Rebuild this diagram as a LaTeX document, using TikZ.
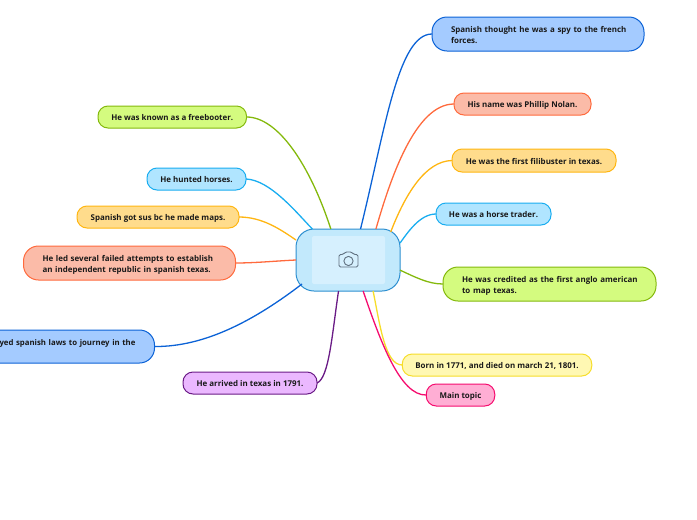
\documentclass[tikz,border=0pt]{standalone}
\usepackage{fontspec}
\setmainfont{Open Sans}[BoldFont={Open Sans Bold}]
\definecolor{bluef}{HTML}{A4CBFF}\definecolor{bluel}{HTML}{0B62D6}
\definecolor{redf}{HTML}{FBBBA8}\definecolor{redl}{HTML}{FF6A3D}
\definecolor{orgf}{HTML}{FFDC8C}\definecolor{orgl}{HTML}{FFB612}
\definecolor{skyf}{HTML}{B0E5FF}\definecolor{skyl}{HTML}{19ADF0}
\definecolor{grnf}{HTML}{D4FB7F}\definecolor{grnl}{HTML}{84B90C}
\definecolor{yelf}{HTML}{FFF8B3}\definecolor{yell}{HTML}{F6DD2A}
\definecolor{pnkf}{HTML}{FFAED4}\definecolor{pnkl}{HTML}{F50C6E}
\definecolor{purf}{HTML}{EBB8FF}\definecolor{purl}{HTML}{6A1B86}
\definecolor{cenf}{HTML}{C2E9FC}\definecolor{cenl}{HTML}{2D8FD0}
\definecolor{cenin}{HTML}{D6F0FE}\definecolor{camera}{HTML}{5F7080}
\tikzset{
  x=1pt,y=-1pt,
  topic/.style={rectangle,rounded corners=#1,inner sep=0pt,outer sep=0pt,line width=1pt,font=\fontsize{7.95}{11}\selectfont\bfseries,text=black!90},
  topic/.default=10pt,
  tblue/.style={draw=bluel,fill=bluef},
  tred/.style={draw=redl,fill=redf},
  torg/.style={draw=orgl,fill=orgf},
  tsky/.style={draw=skyl,fill=skyf},
  tgrn/.style={draw=grnl,fill=grnf},
  tyel/.style={draw=yell,fill=yelf},
  tpnk/.style={draw=pnkl,fill=pnkf},
  tpur/.style={draw=purl,fill=purf},
  link/.style={line width=1.3pt},
  one/.style 2 args={minimum width=#1pt,minimum height=#2pt,text height=8pt,text depth=1pt},
  two/.style 2 args={minimum height=#2pt,inner xsep=19pt,text width=#1pt-38pt,align=left,text depth=9pt},
}
\begin{document}
\begin{tikzpicture}
\clip (0,0) rectangle (697,520);
% central
\node[rectangle,rounded corners=18pt,draw=cenl,fill=cenf,line width=1pt,inner sep=0pt,outer sep=0pt,minimum width=104pt,minimum height=62pt] (c) at (348,260) {};
\node[rectangle,rounded corners=2pt,fill=cenin,inner sep=0pt,minimum width=73pt,minimum height=48pt] (ci) at (348.5,260) {};
\draw[line width=.9pt,draw=camera,rounded corners=1.5pt] (339,254.5) -- (343.5,254.5) -- (345,252) -- (352,252) -- (353.5,254.5) -- (358,254.5) -- (358,267) -- (339,267) -- cycle;
\draw[line width=.9pt,draw=camera] (348.5,261) circle[radius=4.6];
% right topics
\node[topic=15pt,tblue,two={212}{34}] (spy) at (538,34) {\mbox{Spanish thought he was a spy to the french}\\forces.};
\node[topic,tred,one={137}{22}] (phil) at (522.5,104) {His name was Phillip Nolan.};
\node[topic,torg,one={164}{23}] (fili) at (534,160.5) {He was the first filibuster in texas.};
\node[topic,tsky,one={115}{22}] (trad) at (493.5,214) {He was a horse trader.};
\node[topic=15pt,tgrn,two={213}{34}] (cred) at (549.5,284) {\mbox{He was credited as the first anglo american}\\to map texas.};
\node[topic,tyel,one={189.5}{22}] (born) at (497,365) {Born in 1771, and died on march 21, 1801.};
\node[topic,tpnk,one={68.5}{22}] (main) at (460.5,395) {Main topic};
% left topics
\node[topic,tpur,one={134}{22}] (arr) at (250,383) {He arrived in texas in 1791.};
\node[topic=15pt,tblue,minimum height=33pt,inner xsep=19pt,text width=177pt,align=right,text depth=8pt,font=\fontsize{7.8}{11}\selectfont\bfseries] (law) at (47,346.5) {yed spanish laws to journey in the\\\mbox{}};
\node[topic=15pt,tred,two={212}{34}] (led) at (129.5,263) {\mbox{He led several failed attempts to establish}\\\mbox{an independent republic in spanish texas.}};
\node[topic,torg,one={162}{22}] (sus) at (158,217) {Spanish got sus bc he made maps.};
\node[topic,tsky,one={99}{22}] (hunt) at (196.5,179) {He hunted horses.};
\node[topic,tgrn,one={148.5}{22}] (free) at (172.25,117) {He was known as a freebooter.};
% connectors
\draw[link,bluel] (c.68.8) .. controls (385,130) and (398,34) .. (spy.west);
\draw[link,redl] (c.48.9) .. controls (390,180) and (415,104) .. (phil.west);
\draw[link,orgl] ([yshift=-3pt]c.36.4) .. controls (405,195) and (425,161) .. (fili.west);
\draw[link,skyl] (c.18) .. controls (408,232) and (420,214) .. (trad.west);
\draw[link,grnl] (c.-11.9) .. controls (415,277) and (428,284) .. (cred.west);
\draw[link,yell] (c.-51.1) .. controls (380,325) and (385,365) .. (born.west);
\draw[link,pnkl] (c.-64.2) .. controls (380,340) and (400,396) .. (main.west);
\draw[link,purl] (c.253.8) .. controls (332,335) and (329,378) .. (arr.east);
\draw[link,bluel] ([yshift=7pt]c.214.6) .. controls (255,320) and (205,347) .. (law.east);
\draw[link,redl] (c.180) .. controls (275,261) and (255,263) .. (led.east);
\draw[link,orgl] (c.159) .. controls (280,229) and (262,217) .. (sus.east);
\draw[link,skyl] (c.139.3) .. controls (296,212) and (270,180) .. (hunt.east);
\draw[link,grnl] (c.119.4) .. controls (310,165) and (278,117) .. (free.east);
\end{tikzpicture}
\end{document}
